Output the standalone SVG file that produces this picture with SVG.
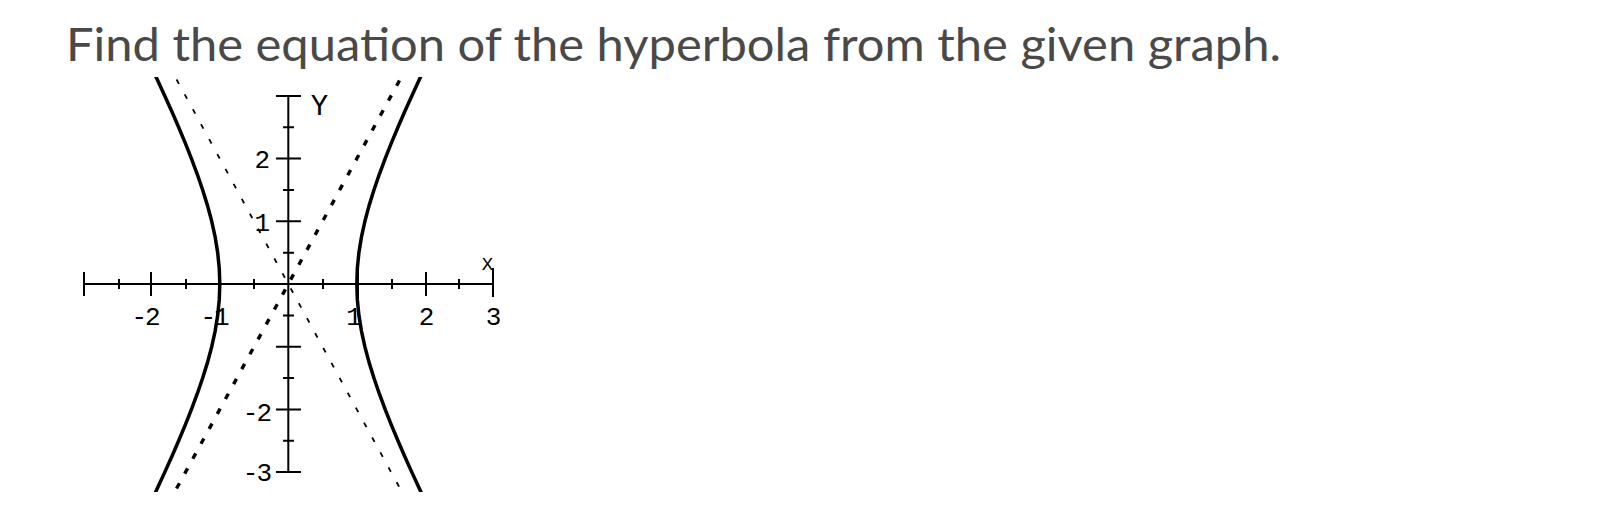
<svg xmlns="http://www.w3.org/2000/svg" width="1602" height="524" viewBox="0 0 1602 524">
<style>
.title{font-family:Lato,"Liberation Sans",sans-serif;font-size:47px;fill:#494949}
.lbl{font-family:"Liberation Mono","DejaVu Sans Mono",monospace;font-size:26px;fill:#000}
.axis{stroke:#000;stroke-width:2;fill:none}
.curve{stroke:#000;stroke-width:3.5;fill:none;stroke-linejoin:round}
.asyB{stroke:#000;stroke-width:3.4;stroke-dasharray:6 11;fill:none}
.asyT{stroke:#000;stroke-width:1.8;stroke-dasharray:5 12;fill:none}
</style>
<defs>
<clipPath id="plot"><rect x="60" y="77" width="470" height="415"/></clipPath>
</defs>
<rect width="1602" height="524" fill="#fff"/>
<g id="title"><text class="title" x="66" y="61" textLength="1215" lengthAdjust="spacingAndGlyphs">Find the equation of the hyperbola from the given graph.</text></g>
<g id="axes">
<path class="axis" d="M84 284H493M288.3 96V472.1"/>
<path class="axis" d="M84 272V296M151 272V296M219 272V296M358 272V296M426 272V296M493 268V297"/>
<path class="axis" d="M119 279V289M186 279V289M254 279V289M323 279V289M392 279V289M459 279V289"/>
<path class="axis" d="M276 96H301M276 158.6H301M276 221.3H301M276 346.7H301M276 409.4H301M276 472.1H301"/>
<path class="axis" d="M283 127.3H294M283 190H294M283 252.7H294M283 315.4H294M283 378H294M283 440.8H294"/>
</g>
<g id="labels" class="lbl">
<text x="145" y="325" text-anchor="middle" letter-spacing="-2">-2</text>
<text x="214" y="325" text-anchor="middle" letter-spacing="-2">-1</text>
<text x="354" y="325" text-anchor="middle">1</text>
<text x="426.5" y="325" text-anchor="middle">2</text>
<text x="493.5" y="325" text-anchor="middle">3</text>
<text x="270" y="168" text-anchor="end">2</text>
<text x="270" y="231" text-anchor="end">1</text>
<text x="270" y="421" text-anchor="end" letter-spacing="-2">-2</text>
<text x="270" y="481" text-anchor="end" letter-spacing="-2">-3</text>
<text x="319.5" y="115" text-anchor="middle" style="font-size:29px">Y</text>
<text x="487.5" y="270" text-anchor="middle" style="font-size:19px">X</text>
</g>
<g id="connectors" clip-path="url(#plot)">
<path id="asymptote-pos" class="asyB" d="M168.4 503.45L408.2 64.55"/>
<path id="asymptote-neg" class="asyT" d="M168.4 64.55L408.2 503.45"/>
</g>
<g id="hyperbola-right" clip-path="url(#plot)">
<polyline class="curve" points="426.37,64.55 419.0,80.22 411.79,95.9 404.76,111.57 397.95,127.25 391.41,142.92 385.17,158.6 379.32,174.27 373.93,189.95 369.08,205.62 364.88,221.3 361.46,236.97 358.91,252.65 357.33,268.32 356.8,284 357.33,299.68 358.91,315.35 361.46,331.03 364.88,346.7 369.08,362.38 373.93,378.05 379.32,393.73 385.17,409.4 391.41,425.08 397.95,440.75 404.76,456.43 411.79,472.1 419.0,487.78 426.37,503.45"/>
</g>
<g id="hyperbola-left" clip-path="url(#plot)">
<polyline class="curve" points="150.23,64.55 157.6,80.22 164.81,95.9 171.84,111.57 178.65,127.25 185.19,142.92 191.43,158.6 197.28,174.27 202.67,189.95 207.52,205.62 211.72,221.3 215.14,236.97 217.69,252.65 219.27,268.32 219.8,284 219.27,299.68 217.69,315.35 215.14,331.03 211.72,346.7 207.52,362.38 202.67,378.05 197.28,393.73 191.43,409.4 185.19,425.08 178.65,440.75 171.84,456.43 164.81,472.1 157.6,487.78 150.23,503.45"/>
</g>
</svg>
